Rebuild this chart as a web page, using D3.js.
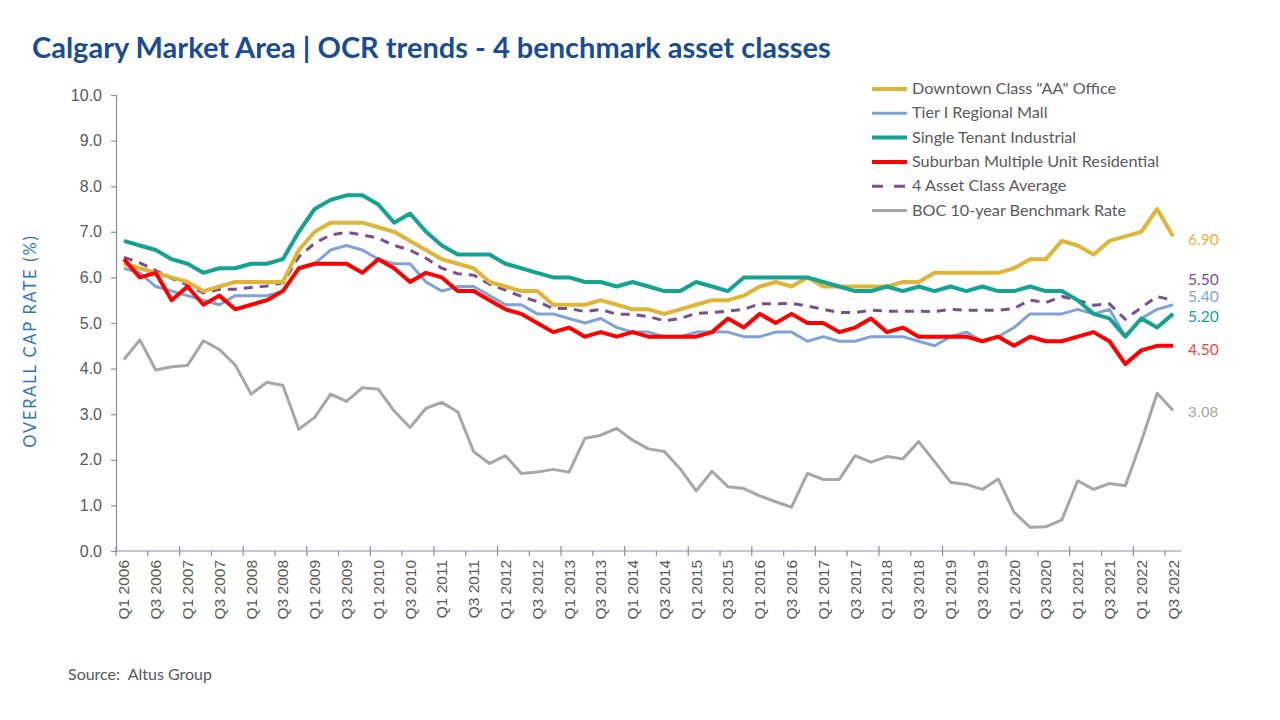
<!DOCTYPE html>
<html>
<head>
<meta charset="utf-8">
<script src="https://cdn.jsdelivr.net/npm/d3@7/dist/d3.min.js"></script>
<style>
  html, body { margin: 0; padding: 0; background: #fff; }
  svg { display: block; }
</style>
</head>
<body>
<svg id="chart" width="1280" height="720"></svg>
<script>
// ---------- DATA ----------
const quarters = [];
for (let yr = 2006; yr <= 2022; yr++) {
  for (let q = 1; q <= 4; q++) {
    if (yr === 2022 && q > 3) break;
    quarters.push("Q" + q + " " + yr);
  }
}
const yTicks = [0, 1, 2, 3, 4, 5, 6, 7, 8, 9, 10];

const downtownOffice = [6.3,6.2,6.1,6.0,5.9,5.7,5.8,5.9,5.9,5.9,
  5.9,6.6,7.0,7.2,7.2,7.2,7.1,7.0,6.8,6.6,
  6.4,6.3,6.2,5.9,5.8,5.7,5.7,5.4,5.4,5.4,
  5.5,5.4,5.3,5.3,5.2,5.3,5.4,5.5,5.5,5.6,
  5.8,5.9,5.8,6.0,5.8,5.8,5.8,5.8,5.8,5.9,
  5.9,6.1,6.1,6.1,6.1,6.1,6.2,6.4,6.4,6.8,
  6.7,6.5,6.8,6.9,7.0,7.5,6.9];
const regionalMall = [6.2,6.1,5.8,5.7,5.6,5.5,5.4,5.6,5.6,5.6,
  5.7,6.2,6.3,6.6,6.7,6.6,6.4,6.3,6.3,5.9,
  5.7,5.8,5.8,5.6,5.4,5.4,5.2,5.2,5.1,5.0,
  5.1,4.9,4.8,4.8,4.7,4.7,4.8,4.8,4.8,4.7,
  4.7,4.8,4.8,4.6,4.7,4.6,4.6,4.7,4.7,4.7,
  4.6,4.5,4.7,4.8,4.6,4.7,4.9,5.2,5.2,5.2,
  5.3,5.2,5.3,4.7,5.1,5.3,5.4];
const industrial = [6.8,6.7,6.6,6.4,6.3,6.1,6.2,6.2,6.3,6.3,
  6.4,7.0,7.5,7.7,7.8,7.8,7.6,7.2,7.4,7.0,
  6.7,6.5,6.5,6.5,6.3,6.2,6.1,6.0,6.0,5.9,
  5.9,5.8,5.9,5.8,5.7,5.7,5.9,5.8,5.7,6.0,
  6.0,6.0,6.0,6.0,5.9,5.8,5.7,5.7,5.8,5.7,
  5.8,5.7,5.8,5.7,5.8,5.7,5.7,5.8,5.7,5.7,
  5.5,5.2,5.1,4.7,5.1,4.9,5.2];
const residential = [6.4,6.0,6.1,5.5,5.8,5.4,5.6,5.3,5.4,5.5,
  5.7,6.2,6.3,6.3,6.3,6.1,6.4,6.2,5.9,6.1,
  6.0,5.7,5.7,5.5,5.3,5.2,5.0,4.8,4.9,4.7,
  4.8,4.7,4.8,4.7,4.7,4.7,4.7,4.8,5.1,4.9,
  5.2,5.0,5.2,5.0,5.0,4.8,4.9,5.1,4.8,4.9,
  4.7,4.7,4.7,4.7,4.6,4.7,4.5,4.7,4.6,4.6,
  4.7,4.8,4.6,4.1,4.4,4.5,4.5];
const assetAverage = [6.44,6.32,6.15,5.98,5.83,5.66,5.74,5.74,5.78,5.81,
  5.88,6.45,6.75,6.93,6.99,6.93,6.86,6.70,6.60,6.42,
  6.20,6.08,6.05,5.85,5.72,5.58,5.47,5.32,5.32,5.25,
  5.30,5.19,5.19,5.14,5.05,5.10,5.21,5.23,5.26,5.30,
  5.42,5.42,5.43,5.37,5.30,5.23,5.23,5.28,5.26,5.26,
  5.26,5.25,5.30,5.28,5.28,5.28,5.32,5.50,5.45,5.58,
  5.50,5.39,5.42,5.08,5.34,5.58,5.50];
const bocRate = [4.20,4.63,3.97,4.04,4.07,4.61,4.42,4.08,3.44,3.70,
  3.63,2.67,2.93,3.44,3.28,3.58,3.55,3.07,2.71,3.13,
  3.26,3.05,2.18,1.92,2.09,1.70,1.73,1.79,1.73,2.47,
  2.54,2.69,2.43,2.24,2.18,1.80,1.32,1.75,1.41,1.37,
  1.21,1.08,0.96,1.70,1.57,1.57,2.09,1.95,2.07,2.02,
  2.40,1.96,1.51,1.46,1.35,1.58,0.85,0.52,0.53,0.68,
  1.54,1.35,1.48,1.43,2.40,3.46,3.08];

const seriesNames = ['Downtown Class "AA" Office', 'Tier I Regional Mall', 'Single Tenant Industrial',
  'Suburban Multiple Unit Residential', '4 Asset Class Average', 'BOC 10-year Benchmark Rate'];
const endLabels = ["6.90", "5.40", "5.20", "4.50", "5.50", "3.08"];

(function () {
// ---------- STYLE ----------
const series = [
  { name: seriesNames[0], values: downtownOffice, color: "#dfb537", width: 4, dash: null, lDash: null, label: endLabels[0], lColor: "#dfb537", dy: 5, font: "Lato" },
  { name: seriesNames[1], values: regionalMall, color: "#7ea3d4", width: 3, dash: null, lDash: null, label: endLabels[1], lColor: "#7ea3d4", dy: -7, font: "Lato" },
  { name: seriesNames[2], values: industrial, color: "#14a393", width: 4, dash: null, lDash: null, label: endLabels[2], lColor: "#14a393", dy: 4, font: "Lato" },
  { name: seriesNames[3], values: residential, color: "#ff0000", width: 4, dash: null, lDash: null, label: endLabels[3], lColor: "#e8473b", dy: 5, font: "Lato" },
  { name: seriesNames[4], values: assetAverage, color: "#7b4f8e", width: 3, dash: "9,7", lDash: "11,11", label: endLabels[4], lColor: "#7b4f8e", dy: -19, font: "Lato" },
  { name: seriesNames[5], values: bocRate, color: "#a6a6a6", width: 3, dash: null, lDash: null, label: endLabels[5], lColor: "#a6a6a6", dy: 2, font: "Liberation Sans, Arial" }
];
const drawOrder = [5, 1, 4, 0, 2, 3];

const svg = d3.select("#chart");
const mLeft = 116, mRight = 1181, mTop = 95, mBottom = 551;
const axisColor = "#8a8ea6";
const textColor = "#595959";

const x = d3.scalePoint().domain(quarters).range([mLeft, mRight]).padding(0.5);
const y = d3.scaleLinear().domain([0, 10]).range([mBottom, mTop]);
const step = x.step();

// Title
svg.append("text").attr("x", 32).attr("y", 58)
  .attr("font-family", "Lato").attr("font-weight", "bold").attr("font-size", 29)
  .attr("fill", "#1a4d8f").text("Calgary Market Area | OCR trends - 4 benchmark asset classes");

// Y axis
const yAxis = d3.axisLeft(y).tickValues(yTicks).tickFormat(d3.format(".1f")).tickSize(5).tickPadding(9);
const gy = svg.append("g").attr("transform", `translate(${mLeft},0)`).call(yAxis);
gy.select(".domain").attr("stroke", axisColor).attr("stroke-width", 1.2);
gy.selectAll(".tick line").attr("stroke", axisColor).attr("stroke-width", 1.2);
gy.selectAll(".tick text").attr("font-family", "Liberation Sans, Arial").attr("font-size", 16).attr("fill", textColor);

// Y label
svg.append("text").attr("transform", `translate(36,341) rotate(-90)`)
  .attr("text-anchor", "middle").attr("font-family", "Lato").attr("font-size", 16.5)
  .attr("letter-spacing", 1.8)
  .attr("fill", "#2e75b6").text("OVERALL CAP RATE (%)");

// X axis line
svg.append("line").attr("x1", mLeft).attr("x2", mRight).attr("y1", mBottom).attr("y2", mBottom)
  .attr("stroke", axisColor).attr("stroke-width", 1.2);
// Tick marks at category boundaries
const boundaries = d3.range(0, quarters.length + 1, 2);
svg.append("g").selectAll("line").data(boundaries).join("line")
  .attr("x1", k => mLeft + k * step).attr("x2", k => mLeft + k * step)
  .attr("y1", k => k % 4 === 0 ? mBottom - 5 : mBottom)
  .attr("y2", mBottom + 5)
  .attr("stroke", axisColor).attr("stroke-width", 1.2);
// X labels
svg.append("g").selectAll("text").data(quarters.filter((d, i) => i % 2 === 0)).join("text")
  .attr("transform", d => `translate(${x(d) + 5.5},${mBottom + 9}) rotate(-90)`)
  .attr("text-anchor", "end")
  .attr("font-family", "Liberation Sans, Arial").attr("font-size", 15.5).attr("fill", textColor)
  .text(d => d);

// Lines
const line = d3.line().x((d, i) => x(quarters[i])).y(d => y(d));
svg.append("g").selectAll("path").data(drawOrder.map(i => series[i])).join("path")
  .attr("d", s => line(s.values))
  .attr("fill", "none").attr("stroke", s => s.color).attr("stroke-width", s => s.width)
  .attr("stroke-dasharray", s => s.dash).attr("stroke-linejoin", "round");

// End labels
const lastQ = quarters[quarters.length - 1];
svg.append("g").selectAll("text").data(series).join("text")
  .attr("x", x(lastQ) + 15)
  .attr("y", s => y(s.values[s.values.length - 1]) + s.dy)
  .attr("dominant-baseline", "middle")
  .attr("font-family", s => s.font).attr("font-size", 15.5).attr("fill", s => s.lColor)
  .text(s => s.label);

// Legend
const lg = svg.append("g").selectAll("g").data(series).join("g")
  .attr("transform", (s, i) => `translate(872,${89 + i * 24.3})`);
lg.append("line").attr("x1", 0).attr("x2", 35).attr("y1", 0).attr("y2", 0)
  .attr("stroke", s => s.color).attr("stroke-width", s => s.width)
  .attr("stroke-dasharray", s => s.lDash);
lg.append("text").attr("x", 40).attr("y", 1).attr("dominant-baseline", "middle")
  .attr("font-family", "Lato").attr("font-size", 16.2).attr("fill", textColor).text(s => s.name);

// Source
svg.append("text").attr("x", 68).attr("y", 680).attr("font-family", "Lato").attr("font-size", 16)
  .attr("fill", textColor).text("Source:\u00a0\u00a0Altus Group");
})();
</script>
</body>
</html>
